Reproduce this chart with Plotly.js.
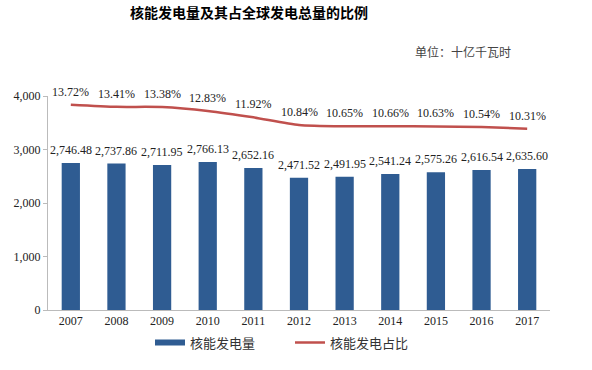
<!DOCTYPE html>
<html><head><meta charset="utf-8">
<script src="https://cdn.plot.ly/plotly-3.0.1.min.js"></script>
<style>html,body{margin:0;padding:0;background:#fff}#chart{width:592px;height:370px}</style>
</head><body><div id="chart"></div>
<script>
const years = ['2007','2008','2009','2010','2011','2012','2013','2014','2015','2016','2017'];
const generation = [2746.48, 2737.86, 2711.95, 2766.13, 2652.16, 2471.52, 2491.95, 2541.24, 2575.26, 2616.54, 2635.60];
const share = [13.72, 13.41, 13.38, 12.83, 11.92, 10.84, 10.65, 10.66, 10.63, 10.54, 10.31];
const seriesNames = ['核能发电量', '核能发电占比'];
const titleText = '核能发电量及其占全球发电总量的比例';
const unitText = '单位：十亿千瓦时';

const serif = 'Liberation Serif, Times New Roman, serif';
const cjk = 'Noto Sans CJK SC, sans-serif';
const barColor = '#2F5C92';
const lineColor = '#C0504D';

const fmt = v => v.toLocaleString('en-US', {minimumFractionDigits: 2, maximumFractionDigits: 2});

const annotations = [];
years.forEach((y, i) => {
  annotations.push({x: i, y: generation[i], xref: 'x', yref: 'y', text: fmt(generation[i]),
    showarrow: false, yanchor: 'middle', yshift: 13, font: {family: serif, size: 12, color: '#222'}});
  annotations.push({x: i, y: share[i], xref: 'x', yref: 'y2', text: share[i].toFixed(2) + '%',
    showarrow: false, yanchor: 'middle', yshift: 13, font: {family: serif, size: 12, color: '#222'}});
});
annotations.push({x: (513 - 48) / 502, y: (319 - 50) / 223, xref: 'paper', yref: 'paper', text: unitText, showarrow: false,
  xanchor: 'right', yanchor: 'middle', font: {family: cjk, size: 12, color: '#444'}});

const data = [
  {type: 'bar', x: years, y: generation, name: seriesNames[0], marker: {color: barColor}, width: 0.4, showlegend: false},
  // legend-only stand-in so the bar key is drawn as a wide flat swatch
  {type: 'scatter', mode: 'lines', x: years, y: years.map(() => null), name: seriesNames[0],
    line: {color: barColor, width: 6}, showlegend: true, hoverinfo: 'skip'},
  {type: 'scatter', mode: 'lines', x: years, y: share, name: seriesNames[1], yaxis: 'y2',
    line: {color: lineColor, width: 2.5, shape: 'spline', smoothing: 0.6}}
];

const layout = {
  width: 592, height: 370,
  margin: {l: 48, r: 42, t: 96, b: 51},
  paper_bgcolor: '#fff', plot_bgcolor: '#fff',
  title: {text: '<b>' + titleText + '</b>', x: 249 / 592, xref: 'container', xanchor: 'center',
    y: 1 - 13 / 370, yref: 'container', yanchor: 'middle', font: {family: cjk, size: 14, color: '#000'}},
  xaxis: {type: 'category', range: [-0.5, 10.5], autorange: false, showline: true, linecolor: '#bbb', linewidth: 1,
    ticks: '', showgrid: false, tickfont: {family: serif, size: 12, color: '#222'}},
  yaxis: {range: [0, 4000], autorange: false, dtick: 1000, tickformat: ',', showline: true, linecolor: '#bbb', linewidth: 1,
    ticks: 'outside', ticklen: 4, tickcolor: '#bbb', showgrid: false, zeroline: false,
    tickfont: {family: serif, size: 12, color: '#222'}},
  yaxis2: {overlaying: 'y', side: 'right', range: [-15.47, 14.95], autorange: false, visible: false, showgrid: false, zeroline: false},
  showlegend: true,
  legend: {orientation: 'h', x: (150 - 48) / 502, xanchor: 'left', y: -34 / 223, yanchor: 'middle',
    entrywidth: 95, itemwidth: 30,
    font: {family: cjk, size: 13, color: '#333'}, traceorder: 'normal'},
  annotations: annotations
};

Plotly.newPlot('chart', data, layout, {displayModeBar: false, staticPlot: true});
</script></body></html>
